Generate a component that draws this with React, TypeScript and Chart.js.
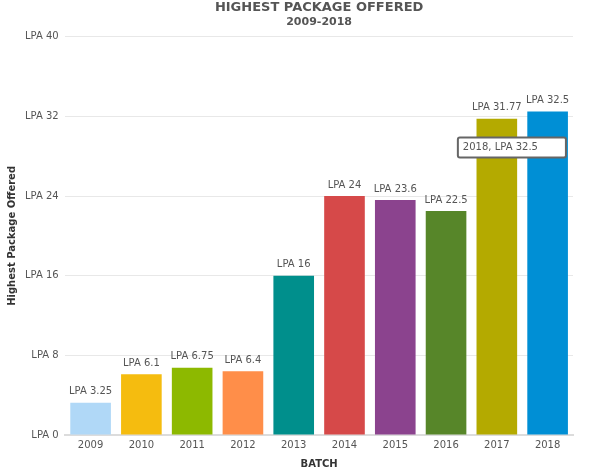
import { useEffect, useRef } from 'react';
import { Chart, registerables, Tooltip } from 'chart.js';

Chart.register(...registerables);

const batches = ['2009', '2010', '2011', '2012', '2013', '2014', '2015', '2016', '2017', '2018'];
const highestPackage = [3.25, 6.1, 6.75, 6.4, 16, 24, 23.6, 22.5, 31.77, 32.5];
const barColors = [
  '#B0D8F7', '#F5BC0F', '#8DB900', '#FF8E49', '#008F8C',
  '#D64949', '#8B438E', '#578629', '#B4AA00', '#008FD5',
];
const yTicks = [0, 8, 16, 24, 32, 40];

const FONT = '"DejaVu Sans", Verdana, sans-serif';
const TEXT = '#555555';

// place the tooltip just under the top-right of the hovered bar
(Tooltip.positioners as any).barRight = function (items: any[]) {
  if (!items.length) return false;
  const el = items[0].element;
  return { x: el.x + el.width / 2 - 4, y: el.y + 26 };
};

const valueLabels = {
  id: 'valueLabels',
  afterDatasetsDraw(chart: Chart) {
    const ctx = chart.ctx;
    const meta = chart.getDatasetMeta(0);
    ctx.save();
    ctx.font = `10px ${FONT}`;
    ctx.fillStyle = TEXT;
    ctx.textAlign = 'center';
    ctx.textBaseline = 'bottom';
    meta.data.forEach((bar: any, i: number) => {
      ctx.fillText('LPA ' + highestPackage[i], bar.x, bar.y - 6);
    });
    ctx.restore();
  },
};

export default function App() {
  const canvasRef = useRef<HTMLCanvasElement | null>(null);

  useEffect(() => {
    if (!canvasRef.current) return;
    const chart = new Chart(canvasRef.current, {
      type: 'bar',
      data: {
        labels: batches,
        datasets: [{
          data: highestPackage,
          backgroundColor: barColors,
          hoverBackgroundColor: barColors,
          barPercentage: 0.8,
          categoryPercentage: 1,
        }],
      },
      options: {
        animation: false,
        responsive: false,
        events: [],
        layout: { padding: { left: 6, right: 18, top: 0, bottom: 6 } },
        plugins: {
          legend: { display: false },
          title: {
            display: true,
            fullSize: false,
            text: 'HIGHEST PACKAGE OFFERED',
            color: TEXT,
            font: { family: FONT, size: 13, weight: 'bold' },
            padding: { top: 0, bottom: 0 },
          },
          subtitle: {
            display: true,
            fullSize: false,
            text: '2009-2018',
            color: TEXT,
            font: { family: FONT, size: 11, weight: 'bold' },
            padding: { top: 0, bottom: 8 },
          },
          tooltip: {
            enabled: true,
            position: 'barRight' as any,
            xAlign: 'right',
            yAlign: 'top',
            caretSize: 0,
            caretPadding: 0,
            cornerRadius: 2,
            backgroundColor: '#ffffff',
            borderColor: '#666666',
            borderWidth: 2,
            bodyColor: TEXT,
            bodyFont: { family: FONT, size: 10 },
            padding: { left: 5, right: 28, top: 4, bottom: 4 },
            displayColors: false,
            callbacks: {
              title: () => '',
              label: (item: any) => `${item.label}, LPA ${item.raw}`,
            },
          },
        },
        scales: {
          x: {
            grid: { display: false, drawTicks: false },
            border: { display: true, color: '#dcdcdc', width: 2 },
            ticks: { color: TEXT, font: { family: FONT, size: 10 }, padding: 4 },
            title: {
              display: true,
              text: 'BATCH',
              color: '#333333',
              font: { family: FONT, size: 10, weight: 'bold' },
              padding: { top: 3, bottom: 0 },
            },
          },
          y: {
            min: 0,
            max: 40,
            afterBuildTicks: (axis: any) => {
              axis.ticks = yTicks.map((v) => ({ value: v }));
            },
            grid: { color: '#e8e8e8', drawTicks: false },
            border: { display: false },
            ticks: {
              color: TEXT,
              font: { family: FONT, size: 10 },
              padding: 6.5,
              callback: (v: any) => 'LPA ' + v,
            },
            title: {
              display: true,
              text: 'Highest Package Offered',
              color: '#333333',
              font: { family: FONT, size: 10, weight: 'bold' },
              padding: { top: 0, bottom: 0.5 },
            },
          },
        },
      },
      plugins: [valueLabels],
    });

    chart.tooltip?.setActiveElements([{ datasetIndex: 0, index: 9 }], { x: 0, y: 0 });
    chart.update();

    return () => chart.destroy();
  }, []);

  return (
    <div style={{ position: 'fixed', left: 0, top: 0, width: 591, height: 476, background: '#fff' }}>
      <canvas ref={canvasRef} width={591} height={476} style={{ width: 591, height: 476 }} />
    </div>
  );
}
